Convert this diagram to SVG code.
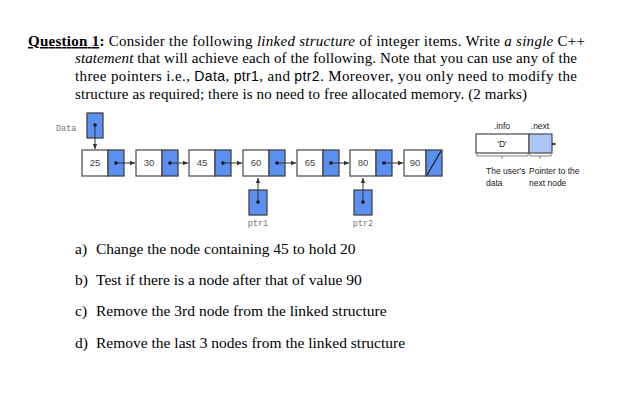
<svg xmlns="http://www.w3.org/2000/svg" width="643" height="404" viewBox="0 0 643 404">
<style>
.t{font-family:"Liberation Serif",serif;font-size:15px;fill:#000}
.i{font-family:"Liberation Serif",serif;font-size:15.5px;fill:#000}
.s{font-family:"Liberation Sans",sans-serif;font-size:14px}
.m{font-family:"Liberation Mono",monospace;font-size:8.5px;fill:#777}
.n{font-family:"Liberation Sans",sans-serif;font-size:9.5px;fill:#444;text-anchor:middle}
.l{font-family:"Liberation Sans",sans-serif;font-size:8.5px;fill:#222}
.w{fill:#fff;stroke:#555;stroke-width:1.3}
.b{fill:#5b8ff0;stroke:#444;stroke-width:1.3}
.c{stroke:#333;stroke-width:1;fill:none}
</style>
<defs><marker id="a" markerWidth="6" markerHeight="6" refX="5" refY="3" orient="auto" markerUnits="userSpaceOnUse"><path d="M0,0.8L5,3L0,5.2z" fill="#333"/></marker></defs>
<rect width="643" height="404" fill="#fff"/>
<g id="question">
<text class="t" x="28" y="46" textLength="557" lengthAdjust="spacing"><tspan font-weight="bold" text-decoration="underline">Question 1</tspan><tspan font-weight="bold">:</tspan>  Consider the following <tspan font-style="italic">linked structure</tspan> of integer items. Write <tspan font-style="italic">a single</tspan> C++</text>
<text class="t" x="75" y="63" textLength="502" lengthAdjust="spacing"><tspan font-style="italic">statement</tspan> that will achieve each of the following. Note that you can use any of the</text>
<text class="t" x="75" y="81" textLength="502" lengthAdjust="spacing">three pointers i.e., <tspan class="s" font-size="13">Data</tspan>, <tspan class="s" font-size="13">ptr1</tspan>, and <tspan class="s" font-size="13">ptr2</tspan>. Moreover, you only need to modify the</text>
<text class="t" x="75" y="99" textLength="452" lengthAdjust="spacing">structure as required; there is no need to free allocated memory.  (2 marks)</text>
</g>
<g id="data"><text class="m" x="56" y="131">Data</text><rect class="b" x="87" y="113" width="16" height="25"/></g>
<g id="n25"><rect class="w" x="82" y="150" width="26" height="26"/><rect class="b" x="108" y="150" width="16" height="26"/><text class="n" x="95" y="166">25</text></g>
<g id="n30"><rect class="w" x="136" y="150" width="26" height="26"/><rect class="b" x="162" y="150" width="16" height="26"/><text class="n" x="149" y="166">30</text></g>
<g id="n45"><rect class="w" x="189" y="150" width="26" height="26"/><rect class="b" x="215" y="150" width="16" height="26"/><text class="n" x="202" y="166">45</text></g>
<g id="n60"><rect class="w" x="243" y="150" width="26" height="26"/><rect class="b" x="269" y="150" width="16" height="26"/><text class="n" x="256" y="166">60</text></g>
<g id="n65"><rect class="w" x="297" y="150" width="26" height="26"/><rect class="b" x="323" y="150" width="16" height="26"/><text class="n" x="310" y="166">65</text></g>
<g id="n80"><rect class="w" x="350" y="150" width="26" height="26"/><rect class="b" x="376" y="150" width="16" height="26"/><text class="n" x="363" y="166">80</text></g>
<g id="n90"><rect class="w" x="404" y="150" width="22" height="26"/><rect class="b" x="426" y="150" width="16" height="26"/><line x1="427" y1="175" x2="441" y2="151" stroke="#222" stroke-width="1.3"/><text class="n" x="415" y="166">90</text></g>
<g id="ptr1"><rect class="b" x="249" y="190" width="18" height="25"/><text class="m" x="258" y="226" text-anchor="middle">ptr1</text></g>
<g id="ptr2"><rect class="b" x="354" y="190" width="18" height="25"/><text class="m" x="363" y="226" text-anchor="middle">ptr2</text></g>
<g id="connectors">
<g fill="#111"><circle cx="95" cy="125" r="1.8"/><circle cx="116" cy="163" r="1.8"/><circle cx="170" cy="163" r="1.8"/><circle cx="223" cy="163" r="1.8"/><circle cx="277" cy="163" r="1.8"/><circle cx="331" cy="163" r="1.8"/><circle cx="384" cy="163" r="1.8"/><circle cx="258" cy="202" r="1.8"/><circle cx="363" cy="202" r="1.8"/><circle cx="540" cy="144" r="1.8"/></g>
<path class="c" marker-end="url(#a)" d="M95,125V149"/>
<path class="c" marker-end="url(#a)" d="M116,163H135"/>
<path class="c" marker-end="url(#a)" d="M170,163H188"/>
<path class="c" marker-end="url(#a)" d="M223,163H242"/>
<path class="c" marker-end="url(#a)" d="M277,163H296"/>
<path class="c" marker-end="url(#a)" d="M331,163H349"/>
<path class="c" marker-end="url(#a)" d="M384,163H403"/>
<path class="c" marker-end="url(#a)" d="M258,202V178"/>
<path class="c" marker-end="url(#a)" d="M363,202V178"/>
<path class="c" marker-end="url(#a)" d="M540,144H556"/>
</g>
<g id="legend">
<text class="l" x="502" y="129" text-anchor="middle">.info</text>
<text class="l" x="540" y="129" text-anchor="middle">.next</text>
<rect class="w" x="476" y="134" width="53" height="19"/>
<rect x="529" y="134" width="23" height="19" fill="#a9c6f5" stroke="#555" stroke-width="1.3"/>
<text class="l" x="502" y="147" text-anchor="middle">'D'</text>
<path d="M477,154v2h51v-2M502,156v3M530,154v2h21v-2M540,156v3" fill="none" stroke="#666" stroke-width="0.8"/>
<text class="l" x="486" y="174">The user's</text><text class="l" x="486" y="186">data</text>
<text class="l" x="529" y="174">Pointer to the</text><text class="l" x="529" y="186">next node</text>
</g>
<g id="items">
<text class="i" x="75" y="254">a)<tspan x="96">Change the node containing 45 to hold 20</tspan></text>
<text class="i" x="75" y="285">b)<tspan x="96">Test if there is a node after that of value 90</tspan></text>
<text class="i" x="75" y="316">c)<tspan x="96">Remove the 3rd node from the linked structure</tspan></text>
<text class="i" x="75" y="348">d)<tspan x="96">Remove the last 3 nodes from the linked structure</tspan></text>
</g>
</svg>
